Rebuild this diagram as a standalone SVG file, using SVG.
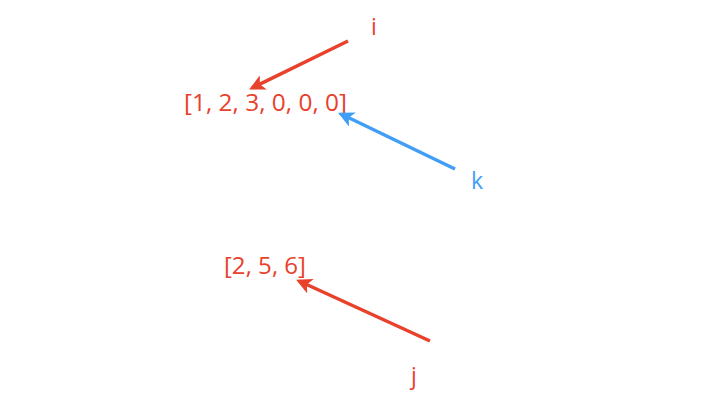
<svg xmlns="http://www.w3.org/2000/svg" width="721" height="410" viewBox="0 0 721 410">
<style>
text{font-family:"Open Sans","Noto Sans",sans-serif;font-size:23px}
.r{fill:#E8412C}.b{fill:#409EF7}
.lr{stroke:#E8412C;stroke-width:3.5;fill:none}
.lb{stroke:#409EF7;stroke-width:3.5;fill:none}
</style>
<defs>
<marker id="ar" viewBox="0 0 10 10" refX="8" refY="5" markerWidth="4.5" markerHeight="4.5" orient="auto" markerUnits="strokeWidth"><path d="M0,0 L10,5 L0,10 L2.5,5 z" fill="#E8412C"/></marker>
<marker id="ab" viewBox="0 0 10 10" refX="8" refY="5" markerWidth="4.5" markerHeight="4.5" orient="auto" markerUnits="strokeWidth"><path d="M0,0 L10,5 L0,10 L2.5,5 z" fill="#409EF7"/></marker>
</defs>
<rect width="721" height="410" fill="#fff"/>
<g id="arr1"><text class="r" x="184" y="111" textLength="163" lengthAdjust="spacingAndGlyphs">[1, 2, 3, 0, 0, 0]</text></g>
<g id="arr2"><text class="r" x="224" y="274" textLength="82" lengthAdjust="spacingAndGlyphs">[2, 5, 6]</text></g>
<g id="i"><text class="r" x="371" y="35">i</text></g>
<g id="k"><text class="b" x="471" y="189">k</text></g>
<g id="j"><text class="r" x="411" y="384">j</text></g>
<g id="connectors">
<line class="lr" x1="348" y1="41" x2="252" y2="88" marker-end="url(#ar)"/>
<line class="lb" x1="455" y1="169" x2="341" y2="114" marker-end="url(#ab)"/>
<line class="lr" x1="430" y1="341" x2="299" y2="281" marker-end="url(#ar)"/>
</g>
</svg>
